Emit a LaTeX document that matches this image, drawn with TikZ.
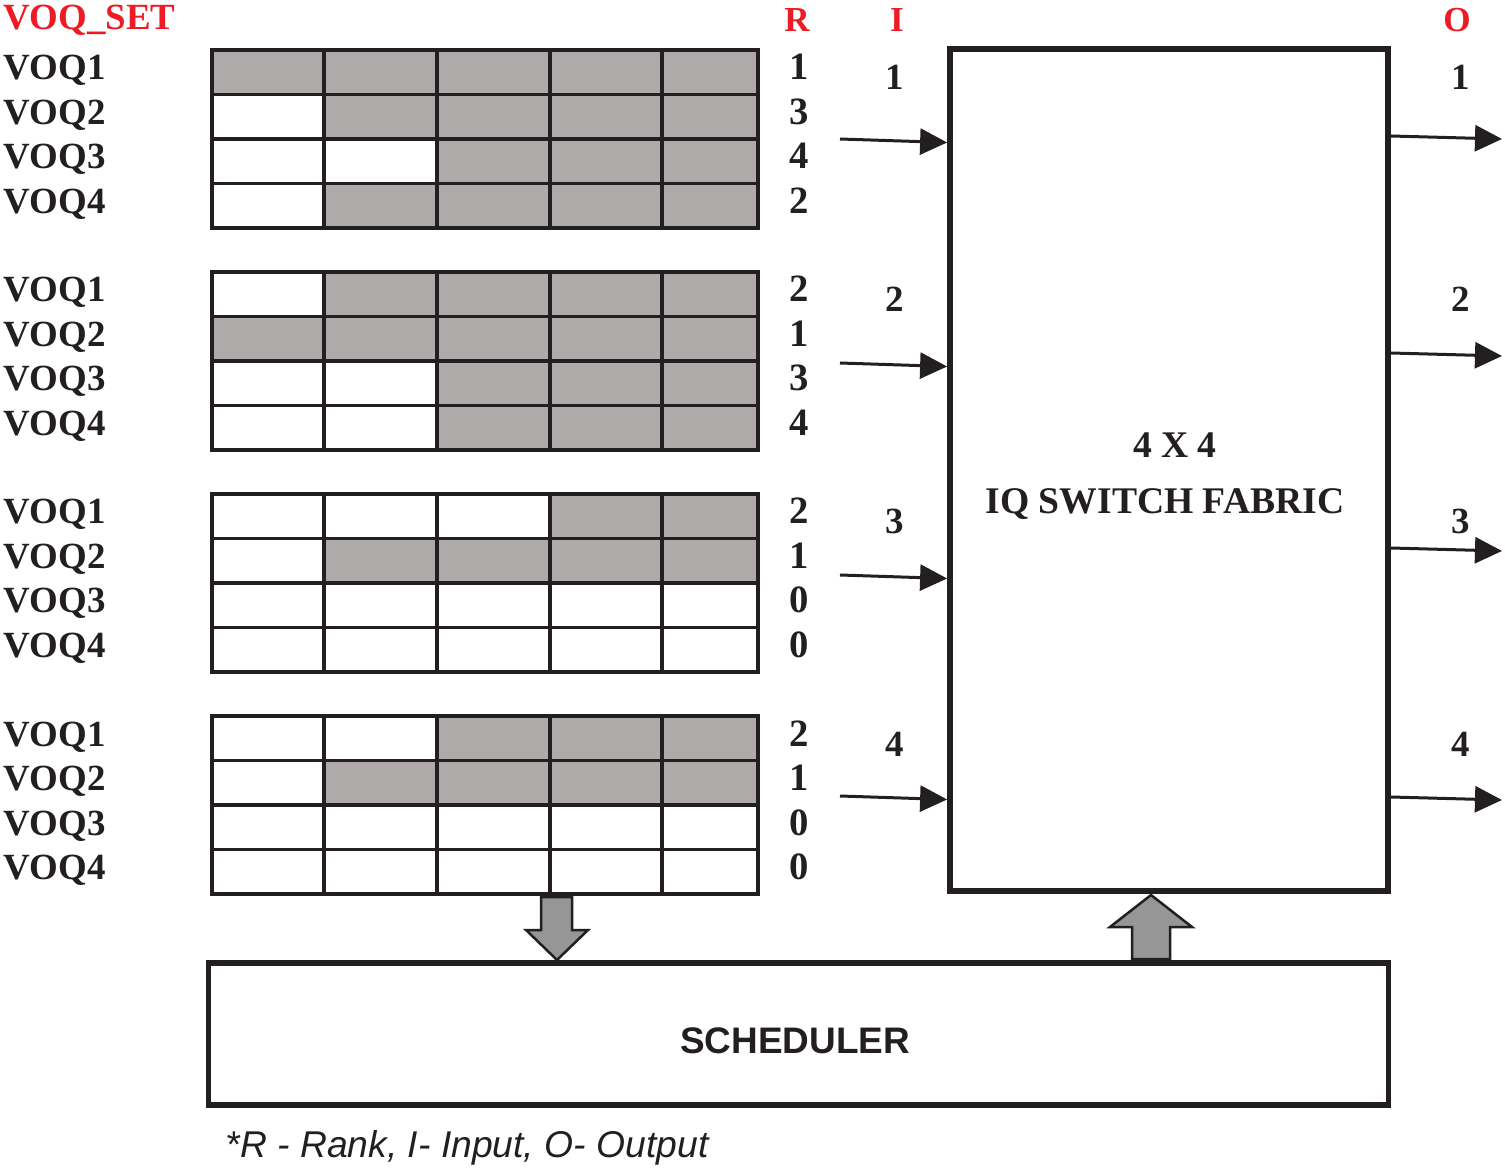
\documentclass[tikz,border=0pt]{standalone}
\usepackage{fontspec}
\setmainfont{Liberation Serif}
\newfontfamily\helvfont{Liberation Sans}
\usetikzlibrary{arrows.meta,calc,positioning}
\definecolor{voqred}{RGB}{237,28,36}
\definecolor{cellgray}{RGB}{174,170,170}
\definecolor{linegray}{RGB}{35,31,32}
\definecolor{blockgray}{RGB}{150,150,150}

\begin{document}
\begin{tikzpicture}[
    x=0.01cm, y=-0.01cm,
    cell line/.style={draw=linegray, line width=0.035cm},
    thick box/.style={draw=linegray, line width=0.055cm, inner sep=0pt},
    voq label/.style={anchor=base west, inner sep=0pt, text=linegray, font=\fontsize{10.5}{13}\selectfont\bfseries},
    rank label/.style={anchor=base, inner sep=0pt, text=linegray, font=\fontsize{11}{13}\selectfont\bfseries},
    port label/.style={anchor=base, inner sep=0pt, text=linegray, font=\fontsize{10.5}{12}\selectfont\bfseries},
    head label/.style={anchor=base, inner sep=0pt, text=voqred, font=\fontsize{10}{11}\selectfont\bfseries},
    fabric text/.style={anchor=base, inner sep=0pt, text=linegray, font=\fontsize{10.7}{12}\selectfont\bfseries},
    io arrow/.style={draw=linegray, line width=0.03cm, -{Triangle[length=0.27cm,width=0.26cm]}},
    block arrow/.style={draw=linegray, fill=blockgray, line width=0.025cm, line join=miter}
]

\useasboundingbox (0,0) rectangle (1505,1170);

% === VOQ sets ===
% occupied cells (group/row/first occupied column)
\foreach \g/\r/\xs in {1/0/212, 1/1/324, 1/2/437, 1/3/324,
                        2/0/324, 2/1/212, 2/2/437, 2/3/437,
                        3/0/550, 3/1/324,
                        4/0/437, 4/1/324}
    \fill[cellgray] (\xs,{50+222*(\g-1)+44.5*\r}) rectangle (758,{50+222*(\g-1)+44.5*(\r+1)});

\foreach \g/\top in {1/50, 2/272, 3/494, 4/716} {
    \node[cell line, minimum width=5.46cm, minimum height=1.78cm, inner sep=0pt] (set\g) at (485,\top+89) {};
    \foreach \r in {1,2,3}
        \draw[cell line] (212,{\top+44.5*\r}) -- (758,{\top+44.5*\r});
    \foreach \x in {324,437,550,662}
        \draw[cell line] (\x,\top) -- (\x,\top+178);
    \foreach \r [count=\n] in {0,1,2,3}
        \node[voq label] (voq\g-\n) at (3,{\top+30+44.5*\r}) {VOQ\n};
}

% ranks
\foreach \k [count=\n from 0] in {1,3,4,2, 2,1,3,4, 2,1,0,0, 2,1,0,0} {
    \pgfmathtruncatemacro\g{div(\n,4)}
    \pgfmathtruncatemacro\r{mod(\n,4)}
    \node[rank label] (rank\n) at (799,{80+222*\g+44.5*\r}) {\k};
}

% column heads
\node[anchor=base west, inner sep=0pt, text=voqred, font=\fontsize{10.5}{13}\selectfont\bfseries] (voqset) at (3,30) {VOQ\_SET};
\node[head label] (rhead) at (797,32) {R};
\node[head label] (ihead) at (897,32) {I};
\node[head label] (ohead) at (1457,32) {O};

% === Switch fabric ===
\node[thick box, minimum width=4.38cm, minimum height=8.42cm] (fabric) at (1169,470) {};
\node[fabric text] (fabsize) at (1175,458) {4 X 4};
\node[fabric text] (fabname) at (1165,514) {IQ SWITCH FABRIC};

% ports
\foreach \p [count=\i from 0] in {1,2,3,4} {
    \node[port label] (in\p) at (895,{90+222*\i}) {\p};
    \node[port label] (out\p) at (1461,{90+222*\i}) {\p};
}

% input / output arrows
\foreach \p/\ya/\yb in {1/139/136, 2/363/353, 3/575/548, 4/796/797} {
    \coordinate (inA\p) at (840,\ya);
    \draw[io arrow] (inA\p) -- ([yshift=-0.035cm]inA\p -| fabric.west);
    \coordinate (outB\p) at (1502,\yb+3);
    \draw[io arrow] ([yshift=0.03cm]outB\p -| fabric.east) -- (outB\p);
}

% === Scheduler ===
\node[thick box, minimum width=11.79cm, minimum height=1.42cm] (scheduler) at (798.5,1034) {};
\node[anchor=base, inner sep=0pt, text=linegray, font=\helvfont\fontsize{10.5}{12}\selectfont\bfseries] (schedname) at (795,1053) {SCHEDULER};

% block arrows
\draw[block arrow] (541,897) -- (572,897) -- (572,930) -- (588,930) -- (557,960) -- (526,930) -- (541,930) -- cycle;
\draw[block arrow] (1132,959) -- (1170,959) -- (1170,927) -- (1192,927) -- (1151,895) -- (1110,927) -- (1132,927) -- cycle;

% legend
\node[anchor=base west, inner sep=0pt, text=linegray, font=\helvfont\fontsize{10.6}{12}\selectfont\itshape] (legend) at (225,1157) {*R - Rank, I- Input, O- Output};

\end{tikzpicture}
\end{document}
